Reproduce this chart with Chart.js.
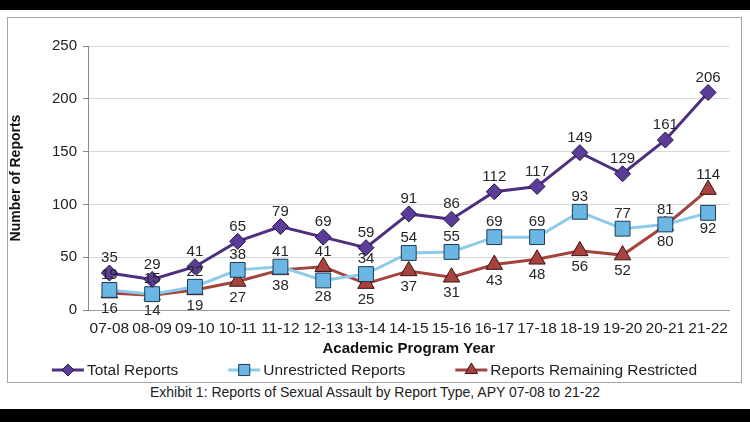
<!DOCTYPE html>
<html>
<head>
<meta charset="utf-8">
<script src="https://cdn.jsdelivr.net/npm/chart.js@4.4.1/dist/chart.umd.min.js"></script>
<style>
  body { margin: 0; background: #000; width: 750px; height: 422px; overflow: hidden; font-family: "Liberation Sans", Arial, sans-serif; }
  #page { position: absolute; left: 0; top: 10px; width: 750px; height: 399px; background: #fff; }
  #frame { position: absolute; left: 7px; top: 7px; width: 733px; height: 364px; border: 1px solid #a6a6a6; }
  #chartBox { position: absolute; left: 0; top: 0; width: 733px; height: 364px; }
  #caption { position: absolute; left: 0; top: 374px; width: 750px; text-align: center; font-size: 14px; color: #222; }
</style>
</head>
<body>
<div id="page">
  <div id="frame"><div id="chartBox"><canvas id="myChart"></canvas></div></div>
  <div id="caption">Exhibit 1: Reports of Sexual Assault by Report Type, APY 07-08 to 21-22</div>
</div>
<script>
// academic program years
var years = ['07-08', '08-09', '09-10', '10-11', '11-12', '12-13', '13-14', '14-15',
             '15-16', '16-17', '17-18', '18-19', '19-20', '20-21', '21-22'];
var totalReports = [35, 29, 41, 65, 79, 69, 59, 91, 86, 112, 117, 149, 129, 161, 206];
var unrestricted = [19, 15, 22, 38, 41, 28, 34, 54, 55, 69, 69, 93, 77, 81, 92];
var restricted   = [16, 14, 19, 27, 38, 41, 25, 37, 31, 43, 48, 56, 52, 80, 114];
var yTicks = [0, 50, 100, 150, 200, 250];

var FONT = '"Liberation Sans", Arial, sans-serif';

var series = [
  {name: 'Total Reports', data: totalReports, line: '#4e2f80', fill: '#5b3c98', edge: '#25163f', style: 'rectRot', r: 8},
  {name: 'Unrestricted Reports', data: unrestricted, line: '#8ecbea', fill: '#6cb6e4', edge: '#1d3a52', style: 'rect', r: 10.5},
  {name: 'Reports Remaining Restricted', data: restricted, line: '#a4443f', fill: '#a8423e', edge: '#3b1414', style: 'triangle', r: 9.5}
];

// value labels: totals above, the two sub-series above/below each other
var valueLabels = {
  id: 'valueLabels',
  afterDatasetsDraw: function(chart){
    var ctx = chart.ctx;
    ctx.save();
    ctx.font = '15px ' + FONT;
    ctx.fillStyle = '#262626';
    ctx.textAlign = 'center';
    ctx.textBaseline = 'middle';
    chart.data.datasets.forEach(function(ds, di){
      var meta = chart.getDatasetMeta(di);
      meta.data.forEach(function(pt, i){
        var v = ds.data[i];
        var above = true;
        if(di === 1) above = v > restricted[i];
        if(di === 2) above = v > unrestricted[i];
        var y = above ? pt.y - 15 : pt.y + 16;
        ctx.fillText(String(v), pt.x, y);
      });
    });
    ctx.restore();
  }
};

// legend drawn by hand: line + marker + text, centred row under the axis title
var lineLegend = {
  id: 'lineLegend',
  afterDraw: function(chart){
    var ctx = chart.ctx;
    var iconW = 32, textGap = 3, itemGap = 50;
    var y = chart.chartArea.bottom + 60;
    ctx.save();
    ctx.font = '15.5px ' + FONT;
    var widths = series.map(function(s){ return iconW + textGap + ctx.measureText(s.name).width; });
    var total = widths.reduce(function(a, b){ return a + b; }, 0) + itemGap * (series.length - 1);
    var x = (chart.width - total) / 2;
    series.forEach(function(s, i){
      ctx.strokeStyle = s.line; ctx.lineWidth = 3;
      ctx.beginPath(); ctx.moveTo(x, y); ctx.lineTo(x + iconW, y); ctx.stroke();
      ctx.fillStyle = s.fill; ctx.strokeStyle = s.edge; ctx.lineWidth = 1;
      Chart.helpers.drawPoint(ctx, {pointStyle: s.style, rotation: 0, radius: s.r * 0.75, borderWidth: 1}, x + iconW / 2, y);
      ctx.fillStyle = '#222';
      ctx.textAlign = 'left'; ctx.textBaseline = 'middle';
      ctx.fillText(s.name, x + iconW + textGap, y + 1);
      x += widths[i] + itemGap;
    });
    ctx.restore();
  }
};

var chart = new Chart(document.getElementById('myChart'), {
  type: 'line',
  data: {
    labels: years,
    datasets: series.map(function(s){
      return {
        label: s.name,
        data: s.data,
        borderColor: s.line,
        borderWidth: 3,
        backgroundColor: s.fill,
        pointStyle: s.style,
        pointRadius: s.r,
        pointHoverRadius: s.r,
        pointBackgroundColor: s.fill,
        pointBorderColor: s.edge,
        pointBorderWidth: 1,
        tension: 0
      };
    })
  },
  options: {
    responsive: true,
    maintainAspectRatio: false,
    animation: false,
    layout: {padding: {left: 0, right: 6, top: 28, bottom: 24}},
    plugins: {
      tooltip: {enabled: false},
      legend: {display: false}
    },
    scales: {
      x: {
        offset: true,
        grid: {display: false, drawTicks: false},
        border: {color: '#9a9a9a', width: 1},
        ticks: {color: '#222', padding: 9, maxRotation: 0, autoSkip: false,
                font: {family: FONT, size: 15.5}},
        title: {display: true, text: 'Academic Program Year', color: '#111', padding: {top: 0, bottom: 0},
                font: {family: FONT, size: 15, weight: 'bold'}},
        afterFit: function(scale){ scale.height = 48; }
      },
      y: {
        min: 0, max: 250,
        afterBuildTicks: function(scale){ scale.ticks = yTicks.map(function(v){ return {value: v}; }); },
        grid: {color: '#d9d9d9', tickColor: '#8a8a8a', tickLength: 5},
        border: {color: '#8a8a8a', width: 1},
        ticks: {color: '#222', padding: 6,
                font: {family: FONT, size: 15}},
        title: {display: true, text: 'Number of Reports', color: '#111', padding: {top: 0, bottom: 10},
                font: {family: FONT, size: 14, weight: 'bold'}},
        afterFit: function(scale){ scale.width = 80; }
      }
    }
  },
  plugins: [valueLabels, lineLegend]
});
</script>
</body>
</html>
